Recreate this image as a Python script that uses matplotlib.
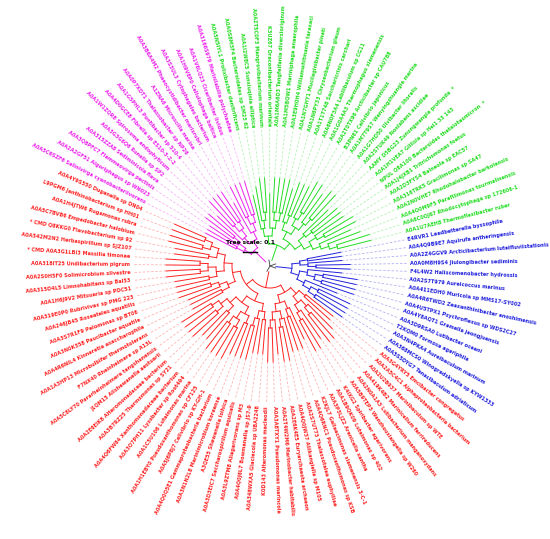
import numpy as np
import matplotlib.pyplot as plt

# leaves in clockwise order, starting with the magenta clade (upper left)
pink = [
    "A0A5C6SZF6 Salinivirga cyanobacteriivorans", "A0A2A2GF51 Algoriphagus sp WN023",
    "A0A3Q8PFC7 Flammeovirga pectinis", "A0A315ZZA8 Sediminicola flava",
    "A0A3G3G6Q6 Runella sp SP2", "A0A1W1ZQR8 Spirosoma endophyticum",
    "A0A4D0GCE8 Fibrella sp ES10-3-2-2", "A0A1G5PHL3 Pontibacter sp 510-4",
    "A0A0P7XDT1 Thalassobacter sp NP26", "A1ZNA6 Microscilla marina",
    "A0A3B6A4M2 Phaeocystidibacter marisrubri", "A0A3S3UL3 Cytophagales bacterium",
    "A0A1H9V8P0 Cellulophaga baltica", "A0A1V6LQ23 Ciceribacter lividus",
    "A0A3166S979 Marinilabilia polychaetae",
]
green = [
    "A0A5N5IYL1 Prolixibacter denitrificans", "A0A0S8M3F4 Bacteroidetes sp SM23 62",
    "A0A1I2W8C5 Sunxiuqinia elliptica", "A0A2T5C0F3 Mangrovibacterium marinum",
    "K3UZ67 Draconibacterium orientale", "A0A1M6A6D3 Tangfeifania diversioriginum",
    "A0A1M5BQW1 Mariniphaga anaerophila", "A0A3E9H0H4 Williamwhitmania taraxaci",
    "A0A1N7GHY1 Mucilaginibacter pineti", "A0A1N6PY33 Chryseobacterium gleum",
    "A0A1T1T748 Saccharicrinis carchari", "A0A6N0F3A4 Labilibaculum sp CG11",
    "A0A1G0A4A3 Thermophagus xiamenensis", "A0A2T0TX96 Arcticibacter sp CAU788",
    "B3PN61 Cellvibrio japonicus", "A0A1M7T9S7 Wenyingzhuangia marina",
    "A0A1G7HD50 Ulvibacter litoralis", "A0A2S7UK49 Nonlabens ascidiae",
    "AAMY D5BG23 Zunongwangia profunda  *", "A0A1H1VEA7 Gillisia sp Hel1 33 143",
    "NPUL Q8A100 Bacteroides thetaiotaomicron  *", "A0A1J4JXB1 Tritrichomonas foetus",
    "A0A2D3FYS4 Balneola sp EAC57", "A0A316TRK5 Gracilimonas sp SA47",
    "A0A2N0VHE7 Rhodohalobacter barkolensis", "A0A4Q0M9F5 Parafilimonas tourmalinensis",
    "A0A6C0QJ67 Rhodocytophaga sp 172606-1", "A0A1U7AEH8 Thermoflexibacter ruber",
]
blue = [
    "E4RVR1 Leadbetterella byssophila", "A0A4Q9B9E7 Aquirufa antheringensis",
    "A0A2Z4GGV9 Arcticibacterium luteifluviistationis", "A0A0M8H9S4 Jiulongibacter sediminis",
    "F4L4W2 Haliscomenobacter hydrossis", "A0A2S7T979 Aureicoccus marinus",
    "A0A411EDH0 Muricola sp MMS17-SY002", "A0A4R6TWD2 Zeaxanthinibacter enoshimensis",
    "A0A4U5TPX1 Psychroflexus sp WDS2C27", "A0A4Y8AQT1 Gramella jeongjuensis",
    "A0A3D9RSA0 Lutibacter oceani", "T2KQM0 Formosa agariphila",
    "A0A3N4PKA4 Aureibaculum marinum", "A0A368MCS0 Winogradskyella sp KYW1333",
    "A0A5S5DYG7 Tenacibaculum adriaticum",
]
red = [
    "A0A3G4YRY5 Emcibacter congregatus", "A0A2A5C4C1 Alphaproteobacteria bacterium",
    "A0A2U2B937 Marinibaculum sp WTE", "A0A419K4B2 Marinicellum ferrireducens",
    "A0A2N0A1A3 Lutibacterium manganoxydans", "A0A5B9TEP3 Wenzhouxiangella sp W260",
    "K4IXG2 Spiribacter agarivorans", "A0A1B9QK09 Luteimonas sp 402",
    "A0A3P3LJZ2 Arenicella xantha", "K2KJL7 Gallaecimonas xiamenensis 3-C-1",
    "A0A4Q6RNC1 Pseudoxanthomonas sp KSB", "A0A2S7UT73 Thalassotalea euphylliae",
    "A0A4Q0JW37 Aliikangiella sp M105", "A0A2E6K4E5 Euryarchaeota archaeon",
    "A0A2T4W2M6 Marinobacter habitabilis", "A0A3A8TXY1 Pseudomonas marincola",
    "K0D143 Alteromonas macleodii", "A0A348WXA5 Glaciecola sp UBA2248",
    "A0A4Q0J6L7 Bowmanella sp JS7-9", "A0A3L9ZTM8 Aliagarivorans sp M3",
    "A0A3D3EIC7 Saccharospirillum aquisalis", "A3QE55 Shewanella loihica",
    "A0A3N1N2L8 Marinimicrobium koreense", "A0A4Q0Q5E1 Gammaproteobacteria bacterium",
    "A0A5J6P8J7 Cellvibrio sp KY-GH-1", "A0A1H1EBY0 Pseudoxanthomonas sp CF125",
    "A0A1C5U106 Luteimonas marina", "A0A3O7PH11 Lysobacter sp Root494",
    "A0A4Q6FW84 Xanthomonadaceae bacterium", "A0A3B7RZ25 Thermomonas sp SY21",
    "A0A2E6EIK8 Alteromonadaceae bacterium", "J1QM15 Alishewanella aestuarii",
    "A0A5C8LY70 Pararheinheimera tangshanensis", "F7NX40 Rheinheimera sp A13L",
    "A0A1A3HP13 Microbulbifer thermotolerans", "A0A4R6NIL4 Kinneretia asaccharophila",
    "A0A3N0K358 Paucibacter aquatile", "A0A3S7R1F9 Pelomonas sp BT06",
    "A0A246JB45 Roseateles aquatilis", "A0A319E0P0 Rubrivivax sp PMG 223",
    "A0A1H6J9V2 Mitsuaria sp PDC51", "A0A315D4L5 Limnohabitans sp Bal53",
    "A0A2S0H5F0 Solimicrobium silvestre", "A0A318IT25 Undibacterium pigrum",
    "* CMD A0A3G1LBI3 Massilia timonae", "A0A542M2N2 Herbaspirillum sp SJZ107",
    "* CMD Q8KKG0 Flavobacterium sp 92", "A0A5C7BVB6 Empedobacter halobium",
    "A0A1H4JTW6 Rugamonas rubra", "L9PGM6 Janthinobacterium sp HH01",
    "A0A4Y9S550 Duganella sp DN04",
]
groups = [(pink, "#ee22ee"), (green, "#22dd22"), (blue, "#2222dd"), (red, "#ff2222")]

cx, cy = 270, 266
r_label = 140
start_angle = 153.0
n_total = sum(len(g) for g, _ in groups)
step = 360.0 / n_total

fig = plt.figure(figsize=(5.5, 5.39), dpi=100)
ax = fig.add_axes([0, 0, 1, 1])
ax.set_xlim(0, 550)
ax.set_ylim(539, 0)
ax.axis("off")


def xy(r, a):
    t = np.deg2rad(a)
    return cx + r * np.cos(t), cy - r * np.sin(t)


def draw_clade(angles, r_parent, color, depth):
    """Draw a comb-like clade, return its mean angle."""
    r_node = r_parent + (8 if depth > 1 else 16)
    if len(angles) == 1:
        r_tip = r_node + 26
        p0 = xy(r_parent, angles[0])
        x1, y1 = xy(r_tip, angles[0])
        ax.plot([p0[0], x1], [p0[1], y1], color=color, lw=0.7)
        xa, ya = xy(r_label - 3, angles[0])
        ax.plot([x1, xa], [y1, ya], color=color, lw=0.6, ls=(0, (3, 2)), alpha=0.35)
        return angles[0]
    k = max(1, len(angles) // 3) if depth % 2 else len(angles) // 2
    subs = [angles[:k], angles[k:]]
    mids = [draw_clade(s, r_node, color, depth + 1) for s in subs]
    arc = np.linspace(mids[0], mids[1], 30)
    px, py = xy(r_node, arc)
    ax.plot(px, py, color=color, lw=0.7)
    mid = np.mean(mids)
    p0 = xy(r_parent, mid)
    p1 = xy(r_node, mid)
    ax.plot([p0[0], p1[0]], [p0[1], p1[1]], color=color, lw=0.7)
    return mid


idx = 0
for leaves, color in groups:
    angles = [start_angle - step * (idx + i) for i in range(len(leaves))]
    idx += len(leaves)
    draw_clade(angles, 6, color, 1)
    for name, a in zip(leaves, angles):
        a_n = (a + 180) % 360 - 180
        x, y = xy(r_label, a)
        if -90 <= a_n <= 90:
            rot, ha = a_n, "left"
        else:
            rot, ha = a_n + 180, "right"
        ax.text(x, y, name, rotation=rot, ha=ha, va="center", rotation_mode="anchor",
                fontsize=3.6, fontweight="bold", color=color)

# join the clades near the root
for a in [100, 20, -20, -120]:
    p = xy(6, a)
    ax.plot([cx, p[0]], [cy, p[1]], color="#555555", lw=0.7)

ax.text(250, 244, "Tree scale: 0.1", fontsize=4.3, fontweight="bold", ha="center")
ax.plot([243, 257], [252, 252], color="black", lw=1)

fig.savefig("out.png", dpi=100)
